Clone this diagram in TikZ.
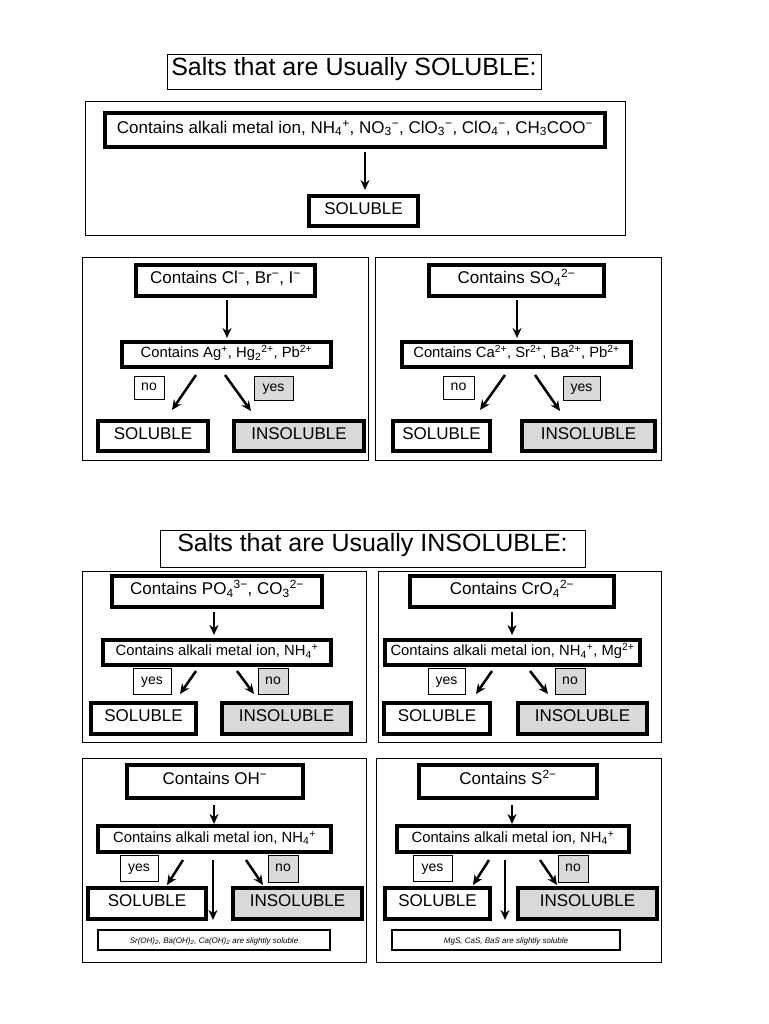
\documentclass[tikz,border=0pt]{standalone}
\usepackage{fontspec}
\setmainfont{Liberation Sans}
\usetikzlibrary{arrows.meta}
\newcommand\sps[1]{\textsuperscript{#1}}
\newcommand\sbs[1]{\textsubscript{#1}}
\newcommand\bx[7]{\node[#6,minimum width={#4-#2},minimum height={#5-#3}] (#1) at ({(#2+#4)/2},{(#3+#5)/2}) {#7};}
\newcommand\ar[5]{\coordinate (#1a) at (#2,#3); \coordinate (#1b) at (#4,#5); \draw[arr] (#1a) -- (#1b);}
\begin{document}
\begin{tikzpicture}[x=1pt,y=-1pt,
 base/.style={draw,inner sep=0pt,text height=0.72em,text depth=0.04em,font=\fontsize{17}{17}\selectfont},
 thick/.style={base,line width=3.4pt},
 thin/.style={base,line width=1pt},
 ttl/.style={thin,font=\fontsize{25}{25}\selectfont},
 mid/.style={thick,font=\fontsize{14.8}{15}\selectfont},
 yn/.style={thin,font=\fontsize{14}{14}\selectfont},
 grey/.style={fill=black!15},
 note/.style={base,line width=2.4pt,font=\fontsize{8}{8}\selectfont\itshape},
 arr/.style={line width=2.5pt,-{Stealth[length=10pt,width=9pt]}}]
\useasboundingbox (0,0) rectangle (768,1024);
% top section
\bx{t1}{167}{55}{541}{90}{ttl}{Salts that are Usually SOLUBLE:}
\bx{p0}{85}{102}{625}{235}{thin}{}
\bx{a0}{105}{113}{605}{147}{thick}{Contains alkali metal ion, NH\sbs{4}\sps{+}, NO\sbs{3}\sps{−}, ClO\sbs{3}\sps{−}, ClO\sbs{4}\sps{−}, CH\sbs{3}COO\sps{−}}
\bx{s0}{309}{196}{418}{226}{thick}{SOLUBLE}
\ar{r0}{365}{152}{365}{190}
% panel A
\bx{pA}{82}{257}{368}{460}{thin}{}
\bx{aA}{136}{265}{315}{296}{thick}{Contains Cl\sps{−}, Br\sps{−}, I\sps{−}}
\bx{mA}{122}{342}{331}{367}{mid}{Contains Ag\sps{+}, Hg\sbs{2}\sps{2+}, Pb\sps{2+}}
\bx{nA}{134}{376}{164}{399}{yn}{no}
\bx{yA}{254}{376}{293}{400}{yn,grey}{yes}
\bx{sA}{98}{421}{208}{451}{thick}{SOLUBLE}
\bx{iA}{234}{421}{364}{451}{thick,grey}{INSOLUBLE}
\ar{rA}{227}{300}{227}{338}
\ar{lA}{196}{375}{172}{410}
\ar{qA}{225}{375}{251}{411}
% panel B
\bx{pB}{375}{257}{661}{460}{thin}{}
\bx{aB}{429}{265}{604}{296}{thick}{Contains SO\sbs{4}\sps{2−}}
\bx{mB}{402}{342}{631}{367}{mid}{Contains Ca\sps{2+}, Sr\sps{2+}, Ba\sps{2+}, Pb\sps{2+}}
\bx{nB}{443}{376}{474}{399}{yn}{no}
\bx{yB}{563}{376}{600}{400}{yn,grey}{yes}
\bx{sB}{393}{421}{490}{451}{thick}{SOLUBLE}
\bx{iB}{522}{421}{655}{451}{thick,grey}{INSOLUBLE}
\ar{rB}{517}{300}{517}{338}
\ar{lB}{505}{375}{480}{410}
\ar{qB}{535}{375}{560}{411}
% insoluble section
\bx{t2}{160}{530}{585}{567}{ttl}{Salts that are Usually INSOLUBLE:}
% panel C
\bx{pC}{82}{571}{366}{742}{thin}{}
\bx{aC}{112}{576}{322}{607}{thick}{Contains PO\sbs{4}\sps{3−}, CO\sbs{3}\sps{2−}}
\bx{mC}{103}{640}{331}{665}{mid}{Contains alkali metal ion, NH\sbs{4}\sps{+}}
\bx{yC}{133}{668}{171}{694}{yn}{yes}
\bx{nC}{258}{668}{288}{694}{yn,grey}{no}
\bx{sC}{91}{703}{196}{734}{thick}{SOLUBLE}
\bx{iC}{222}{703}{351}{734}{thick,grey}{INSOLUBLE}
\ar{rC}{214}{612}{214}{635}
\ar{lC}{196}{671}{180}{694}
\ar{qC}{237}{671}{254}{694}
% panel D
\bx{pD}{378}{571}{661}{742}{thin}{}
\bx{aD}{410}{576}{614}{607}{thick}{Contains CrO\sbs{4}\sps{2−}}
\bx{mD}{385}{640}{640}{665}{mid}{Contains alkali metal ion, NH\sbs{4}\sps{+}, Mg\sps{2+}}
\bx{yD}{428}{668}{465}{694}{yn}{yes}
\bx{nD}{555}{668}{585}{694}{yn,grey}{no}
\bx{sD}{384}{703}{490}{734}{thick}{SOLUBLE}
\bx{iD}{518}{703}{647}{734}{thick,grey}{INSOLUBLE}
\ar{rD}{512}{612}{512}{635}
\ar{lD}{492}{671}{476}{694}
\ar{qD}{530}{671}{548}{694}
% panel E
\bx{pE}{82}{758}{366}{962}{thin}{}
\bx{aE}{127}{765}{303}{798}{thick}{Contains OH\sps{−}}
\bx{mE}{98}{826}{331}{852}{mid}{Contains alkali metal ion, NH\sbs{4}\sps{+}}
\bx{yE}{120}{855}{158}{881}{yn}{yes}
\bx{nE}{268}{855}{298}{882}{yn,grey}{no}
\bx{sE}{88}{888}{206}{919}{thick}{SOLUBLE}
\bx{iE}{233}{888}{362}{919}{thick,grey}{INSOLUBLE}
\bx{xE}{98}{930}{330}{950}{note}{Sr(OH)\sbs{2}, Ba(OH)\sbs{2}, Ca(OH)\sbs{2} are slightly soluble}
\ar{rE}{214}{805}{214}{824}
\ar{lE}{183}{860}{167}{885}
\ar{qE}{246}{860}{263}{885}
\ar{dE}{213}{860}{213}{920}
% panel F
\bx{pF}{376}{758}{661}{962}{thin}{}
\bx{aF}{419}{765}{597}{798}{thick}{Contains S\sps{2−}}
\bx{mF}{397}{826}{629}{852}{mid}{Contains alkali metal ion, NH\sbs{4}\sps{+}}
\bx{yF}{413}{855}{452}{881}{yn}{yes}
\bx{nF}{558}{855}{588}{882}{yn,grey}{no}
\bx{sF}{385}{888}{490}{919}{thick}{SOLUBLE}
\bx{iF}{518}{888}{657}{919}{thick,grey}{INSOLUBLE}
\bx{xF}{392}{930}{620}{950}{note}{MgS, CaS, BaS are slightly soluble}
\ar{rF}{512}{805}{512}{824}
\ar{lF}{489}{860}{473}{885}
\ar{qF}{540}{860}{557}{885}
\ar{dF}{505}{860}{505}{920}
\end{tikzpicture}
\end{document}
